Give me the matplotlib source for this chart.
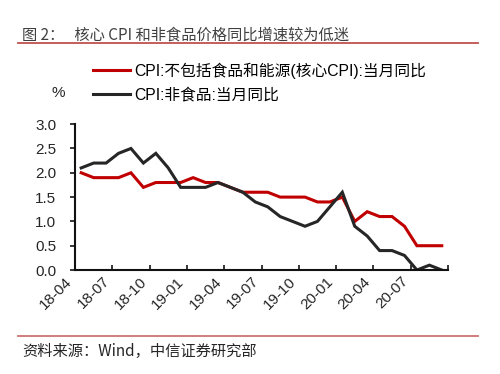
import matplotlib.pyplot as plt
import matplotlib.transforms as mtransforms
from matplotlib.lines import Line2D

plt.rcParams['font.family'] = ['Liberation Sans', 'Noto Sans CJK SC']

# 数据: 2018-04 ~ 2020-09
months = ['18-04', '18-05', '18-06', '18-07', '18-08', '18-09', '18-10', '18-11', '18-12',
          '19-01', '19-02', '19-03', '19-04', '19-05', '19-06', '19-07', '19-08', '19-09',
          '19-10', '19-11', '19-12', '20-01', '20-02', '20-03', '20-04', '20-05', '20-06',
          '20-07', '20-08', '20-09']
core_cpi = [2.0, 1.9, 1.9, 1.9, 2.0, 1.7, 1.8, 1.8, 1.8,
            1.9, 1.8, 1.8, 1.7, 1.6, 1.6, 1.6, 1.5, 1.5,
            1.5, 1.4, 1.4, 1.5, 1.0, 1.2, 1.1, 1.1, 0.9,
            0.5, 0.5, 0.5]
nonfood_cpi = [2.1, 2.2, 2.2, 2.4, 2.5, 2.2, 2.4, 2.1, 1.7,
               1.7, 1.7, 1.8, 1.7, 1.6, 1.4, 1.3, 1.1, 1.0,
               0.9, 1.0, 1.3, 1.6, 0.9, 0.7, 0.4, 0.4, 0.3,
               0.0, 0.1, 0.0]
label_core = 'CPI:不包括食品和能源(核心CPI):当月同比'
label_nonfood = 'CPI:非食品:当月同比'

fig = plt.figure(figsize=(5, 3.74), dpi=100)
ax = fig.add_axes([0.15, 0.278, 0.746, 0.390])

x = [i + 0.5 for i in range(len(months))]
ax.plot(x, core_cpi, color='#c00000', lw=2.2, solid_joinstyle='miter', label=label_core)
ax.plot(x, nonfood_cpi, color='#262626', lw=2.2, solid_joinstyle='miter', label=label_nonfood)

ax.set_xlim(0, len(months))
ax.set_ylim(0, 3.0)
ax.set_yticks([0, 0.5, 1.0, 1.5, 2.0, 2.5, 3.0])
ax.set_yticklabels(['%.1f' % v for v in ax.get_yticks()])
ax.set_xticks(range(0, len(months) + 1, 3))
ax.set_xticklabels(months[::3] + [''], rotation=45, ha='right')
offset = mtransforms.ScaledTranslation(8 / 100, 0, fig.dpi_scale_trans)
for lab in ax.get_xticklabels():
    lab.set_transform(lab.get_transform() + offset)

ax.tick_params(axis='y', direction='out', length=3.5, width=1.3, pad=10, labelsize=11, colors='#262626')
ax.tick_params(axis='x', direction='in', length=3.5, width=1.3, pad=3, labelsize=11, colors='#262626')
for s in ['top', 'right']:
    ax.spines[s].set_visible(False)
for s in ['left', 'bottom']:
    ax.spines[s].set_linewidth(1.5)
    ax.spines[s].set_color('#111111')

fig.legend(loc='upper left', bbox_to_anchor=(0.185, 0.833), frameon=False,
           fontsize=11.3, handlelength=2.4, handletextpad=0.25, labelspacing=0.55,
           borderpad=0, borderaxespad=0)
fig.text(0.104, 0.752, '%', fontsize=11, color='#262626', va='center')

# 标题和来源
fig.text(0.044, 0.907, '图 2：   核心 CPI 和非食品价格同比增速较为低迷', fontsize=11,
         color='#404040', va='center', family=['Noto Sans CJK SC'])
fig.add_artist(Line2D([0.036, 0.956], [0.885, 0.885], color='#c0504d', lw=1.3))
fig.add_artist(Line2D([0.036, 0.956], [0.102, 0.102], color='#c0504d', lw=1.3, alpha=0.8))
fig.text(0.044, 0.059, '资料来源：Wind，中信证券研究部', fontsize=11,
         color='#262626', va='center', family=['Noto Sans CJK SC'])

fig.savefig('out.png', dpi=100)
